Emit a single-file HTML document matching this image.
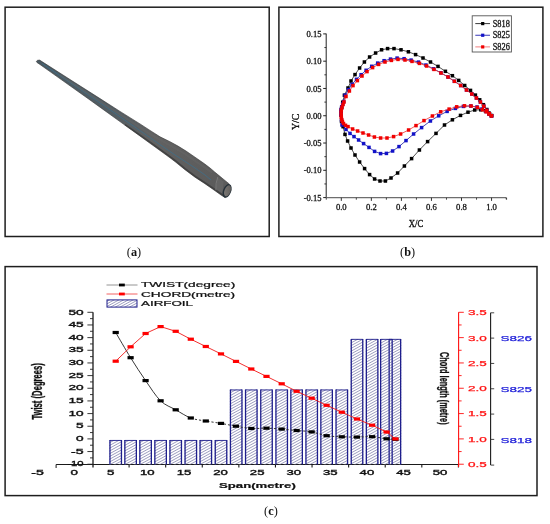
<!DOCTYPE html><html><head><meta charset="utf-8"><title>Figure</title><style>html,body{margin:0;padding:0;background:#fff;width:550px;height:524px;overflow:hidden;}svg{display:block;position:absolute;left:0;top:0;}</style></head><body>
<svg width="550" height="524" viewBox="0 0 550 524">
<defs><linearGradient id="bladeG" gradientUnits="userSpaceOnUse" x1="40" y1="60" x2="225" y2="185"><stop offset="0" stop-color="#4a5a63"/><stop offset="0.4" stop-color="#535d63"/><stop offset="0.62" stop-color="#616161"/><stop offset="1" stop-color="#5b5b5b"/></linearGradient><linearGradient id="capG" gradientUnits="objectBoundingBox" x1="0" y1="0" x2="1" y2="1"><stop offset="0" stop-color="#5e5c5a"/><stop offset="1" stop-color="#7e7a76"/></linearGradient><pattern id="hatch" patternUnits="userSpaceOnUse" width="10" height="2.3" patternTransform="rotate(-29)"><line x1="0" y1="0.5" x2="10" y2="0.5" stroke="#7e7ea6" stroke-width="0.75"/></pattern></defs>
<rect x="0" y="0" width="550" height="524" fill="#fff"/>
<rect x="5.1" y="7.2" width="264.1" height="229.3" fill="none" stroke="#1e1e1e" stroke-width="1.5"/>
<rect x="278.9" y="7.2" width="264.0" height="229.3" fill="none" stroke="#1e1e1e" stroke-width="1.5"/>
<rect x="5.1" y="266.6" width="531.9" height="229.0" fill="none" stroke="#1e1e1e" stroke-width="1.5"/>
<text x="134.0" y="256.3" font-family="'Liberation Serif', 'Times New Roman', serif" font-size="12.3" text-anchor="middle" fill="#111">(<tspan font-weight="bold">a</tspan>)</text>
<text x="407.6" y="256.3" font-family="'Liberation Serif', 'Times New Roman', serif" font-size="12.3" text-anchor="middle" fill="#111">(<tspan font-weight="bold">b</tspan>)</text>
<text x="270.9" y="515.0" font-family="'Liberation Serif', 'Times New Roman', serif" font-size="12.3" text-anchor="middle" fill="#111">(<tspan font-weight="bold">c</tspan>)</text>
<path d="M36.3,61.4 L37.6,60.3 L39.6,60.1 L70,79.5 L100,98.6 L120,111.4 L140,123.9 L150,130.4 L160,136.8 L170,141.7 L178,146.1 L186,151.0 L195,157.2 L204.5,163.8 L210,168.0 L214.6,171.9 L219,175.6 L224,179.7 L229.2,183.9 L225.2,197.6 L221.7,195.5 L214,190.0 L210,187.2 L204.5,183.4 L195,177.2 L185,169.7 L175,161.6 L170,157.8 L160,150.5 L150,143.3 L140,136.0 L120,121.6 L100,107.2 L90,100.0 L70,85.8 L50,71.6 L40,64.5 L37,62.5 Z" fill="url(#bladeG)" stroke="#333" stroke-width="0.6" stroke-linejoin="round"/>
<path d="M125,124.6 L140,135.2 L150,142.2 L160,149.4 L170,156.7 L175,160.5 L185,168.6 L195,176.1 L204.5,182.3 L210,186.1 L214,188.9 L221.7,194.4 L224.5,196.2" fill="none" stroke="#303030" stroke-width="1.6" opacity="0.6"/>
<path d="M42,63.5 L100,102.8 L150,137.6 L160,144.6 L175,155.0 L185,161.4 L195,168.0 L205,175.0 L211,180.0" fill="none" stroke="#3f6e88" stroke-width="0.9" opacity="0.9"/>
<path d="M60,75 L150,134 L185,154 L212,172.5" fill="none" stroke="#6a6a6a" stroke-width="2" opacity="0.4"/>
<path d="M217.6,177.5 L223.6,181.6 L222.4,193.6 L216.2,189.2 Z" fill="#6c6c6c" opacity="0.55"/>
<path d="M217.8,177.0 Q215.4,183 215.9,190.2" fill="none" stroke="#7c7c7c" stroke-width="0.9"/>
<ellipse cx="227.1" cy="190.9" rx="7.1" ry="4.1" transform="rotate(111 227.1 190.9)" fill="#263139"/>
<ellipse cx="227.5" cy="190.8" rx="5.8" ry="3.0" transform="rotate(111 227.5 190.8)" fill="url(#capG)"/>
<line x1="326.2" y1="33.6" x2="326.2" y2="197.7" stroke="#222" stroke-width="1"/>
<line x1="326.2" y1="197.7" x2="506.2" y2="197.7" stroke="#6e6e6e" stroke-width="1.2"/>
<line x1="323.2" y1="33.90" x2="326.2" y2="33.90" stroke="#222" stroke-width="1"/>
<line x1="324.4" y1="47.54" x2="326.2" y2="47.54" stroke="#222" stroke-width="0.9"/>
<text x="321.5" y="37.00" font-family="'Liberation Serif', 'Times New Roman', serif" font-size="9.2" text-anchor="end" fill="#111" font-weight="normal" textLength="15.0" lengthAdjust="spacingAndGlyphs" stroke="#111" stroke-width="0.3">0.15</text>
<line x1="323.2" y1="61.18" x2="326.2" y2="61.18" stroke="#222" stroke-width="1"/>
<line x1="324.4" y1="74.82" x2="326.2" y2="74.82" stroke="#222" stroke-width="0.9"/>
<text x="321.5" y="64.28" font-family="'Liberation Serif', 'Times New Roman', serif" font-size="9.2" text-anchor="end" fill="#111" font-weight="normal" textLength="15.0" lengthAdjust="spacingAndGlyphs" stroke="#111" stroke-width="0.3">0.10</text>
<line x1="323.2" y1="88.46" x2="326.2" y2="88.46" stroke="#222" stroke-width="1"/>
<line x1="324.4" y1="102.10" x2="326.2" y2="102.10" stroke="#222" stroke-width="0.9"/>
<text x="321.5" y="91.56" font-family="'Liberation Serif', 'Times New Roman', serif" font-size="9.2" text-anchor="end" fill="#111" font-weight="normal" textLength="15.0" lengthAdjust="spacingAndGlyphs" stroke="#111" stroke-width="0.3">0.05</text>
<line x1="323.2" y1="115.74" x2="326.2" y2="115.74" stroke="#222" stroke-width="1"/>
<line x1="324.4" y1="129.38" x2="326.2" y2="129.38" stroke="#222" stroke-width="0.9"/>
<text x="321.5" y="118.84" font-family="'Liberation Serif', 'Times New Roman', serif" font-size="9.2" text-anchor="end" fill="#111" font-weight="normal" textLength="15.0" lengthAdjust="spacingAndGlyphs" stroke="#111" stroke-width="0.3">0.00</text>
<line x1="323.2" y1="143.02" x2="326.2" y2="143.02" stroke="#222" stroke-width="1"/>
<line x1="324.4" y1="156.66" x2="326.2" y2="156.66" stroke="#222" stroke-width="0.9"/>
<text x="321.5" y="146.12" font-family="'Liberation Serif', 'Times New Roman', serif" font-size="9.2" text-anchor="end" fill="#111" font-weight="normal" textLength="17.8" lengthAdjust="spacingAndGlyphs" stroke="#111" stroke-width="0.3">-0.05</text>
<line x1="323.2" y1="170.30" x2="326.2" y2="170.30" stroke="#222" stroke-width="1"/>
<line x1="324.4" y1="183.94" x2="326.2" y2="183.94" stroke="#222" stroke-width="0.9"/>
<text x="321.5" y="173.40" font-family="'Liberation Serif', 'Times New Roman', serif" font-size="9.2" text-anchor="end" fill="#111" font-weight="normal" textLength="17.8" lengthAdjust="spacingAndGlyphs" stroke="#111" stroke-width="0.3">-0.10</text>
<line x1="323.2" y1="197.58" x2="326.2" y2="197.58" stroke="#222" stroke-width="1"/>
<text x="321.5" y="200.68" font-family="'Liberation Serif', 'Times New Roman', serif" font-size="9.2" text-anchor="end" fill="#111" font-weight="normal" textLength="17.8" lengthAdjust="spacingAndGlyphs" stroke="#111" stroke-width="0.3">-0.15</text>
<line x1="341.30" y1="197.7" x2="341.30" y2="200.89999999999998" stroke="#333" stroke-width="1"/>
<text x="341.30" y="210.2" font-family="'Liberation Serif', 'Times New Roman', serif" font-size="9.2" text-anchor="middle" fill="#111" font-weight="normal" textLength="10.8" lengthAdjust="spacingAndGlyphs" stroke="#111" stroke-width="0.3">0.0</text>
<line x1="371.35" y1="197.7" x2="371.35" y2="200.89999999999998" stroke="#333" stroke-width="1"/>
<text x="371.35" y="210.2" font-family="'Liberation Serif', 'Times New Roman', serif" font-size="9.2" text-anchor="middle" fill="#111" font-weight="normal" textLength="10.8" lengthAdjust="spacingAndGlyphs" stroke="#111" stroke-width="0.3">0.2</text>
<line x1="401.40" y1="197.7" x2="401.40" y2="200.89999999999998" stroke="#333" stroke-width="1"/>
<text x="401.40" y="210.2" font-family="'Liberation Serif', 'Times New Roman', serif" font-size="9.2" text-anchor="middle" fill="#111" font-weight="normal" textLength="10.8" lengthAdjust="spacingAndGlyphs" stroke="#111" stroke-width="0.3">0.4</text>
<line x1="431.45" y1="197.7" x2="431.45" y2="200.89999999999998" stroke="#333" stroke-width="1"/>
<text x="431.45" y="210.2" font-family="'Liberation Serif', 'Times New Roman', serif" font-size="9.2" text-anchor="middle" fill="#111" font-weight="normal" textLength="10.8" lengthAdjust="spacingAndGlyphs" stroke="#111" stroke-width="0.3">0.6</text>
<line x1="461.50" y1="197.7" x2="461.50" y2="200.89999999999998" stroke="#333" stroke-width="1"/>
<text x="461.50" y="210.2" font-family="'Liberation Serif', 'Times New Roman', serif" font-size="9.2" text-anchor="middle" fill="#111" font-weight="normal" textLength="10.8" lengthAdjust="spacingAndGlyphs" stroke="#111" stroke-width="0.3">0.8</text>
<line x1="491.55" y1="197.7" x2="491.55" y2="200.89999999999998" stroke="#333" stroke-width="1"/>
<text x="491.55" y="210.2" font-family="'Liberation Serif', 'Times New Roman', serif" font-size="9.2" text-anchor="middle" fill="#111" font-weight="normal" textLength="10.8" lengthAdjust="spacingAndGlyphs" stroke="#111" stroke-width="0.3">1.0</text>
<line x1="326.28" y1="197.7" x2="326.28" y2="199.7" stroke="#333" stroke-width="0.9"/>
<line x1="356.32" y1="197.7" x2="356.32" y2="199.7" stroke="#333" stroke-width="0.9"/>
<line x1="386.38" y1="197.7" x2="386.38" y2="199.7" stroke="#333" stroke-width="0.9"/>
<line x1="416.43" y1="197.7" x2="416.43" y2="199.7" stroke="#333" stroke-width="0.9"/>
<line x1="446.48" y1="197.7" x2="446.48" y2="199.7" stroke="#333" stroke-width="0.9"/>
<line x1="476.52" y1="197.7" x2="476.52" y2="199.7" stroke="#333" stroke-width="0.9"/>
<line x1="506.58" y1="197.7" x2="506.58" y2="199.7" stroke="#333" stroke-width="0.9"/>
<line x1="506.2" y1="197.7" x2="506.2" y2="199.29999999999998" stroke="#333" stroke-width="0.9"/>
<text x="416.0" y="226.6" font-family="'Liberation Serif', 'Times New Roman', serif" font-size="9.8" text-anchor="middle" fill="#111" font-weight="normal" textLength="14.6" lengthAdjust="spacingAndGlyphs" stroke="#111" stroke-width="0.3">X/C</text>
<text transform="translate(299.2 121.8) rotate(-90)" x="0" y="0" font-family="'Liberation Serif', 'Times New Roman', serif" font-size="9.8" text-anchor="middle" fill="#111" stroke="#111" stroke-width="0.3" textLength="16.4" lengthAdjust="spacingAndGlyphs">Y/C</text>
<polyline points="491.5,115.6 489.4,113.8 486.8,109.5 483.4,104.7 479.7,99.8 475.4,95.1 470.5,90.4 464.7,85.5 458.7,80.4 452.4,75.7 445.4,71.3 438,66.4 430.5,62 423,58 415.6,54.6 408.4,51.8 401,49.8 394,48.6 387.6,48.6 381.6,49.8 375.6,53 369.6,57 364.4,62 359.6,68 355,74.6 351,81 348,88 344.4,95.2 342.7,102.2 341.6,108.1 341.2,111.2 341.2,115.4 341.5,121.5 343.1,126.7 345,134.4 347.6,141 351,148 355,155 359.6,162 364.6,168.6 369.6,174.6 374.6,179 380,181 385.4,181 391,178 397.6,173 404.4,166 411.6,158.6 419.4,150 427.6,141.6 436,133.4 444.5,125 452.4,119.8 460.5,115.4 468,112.2 474.7,110 480.8,109.8 485.4,110.8 489,113 491.5,115.6" fill="none" stroke="#222" stroke-width="0.8"/><rect x="489.75" y="113.85" width="3.5" height="3.5" fill="#000"/><rect x="487.65" y="112.05" width="3.5" height="3.5" fill="#000"/><rect x="485.05" y="107.75" width="3.5" height="3.5" fill="#000"/><rect x="481.65" y="102.95" width="3.5" height="3.5" fill="#000"/><rect x="477.95" y="98.05" width="3.5" height="3.5" fill="#000"/><rect x="473.65" y="93.35" width="3.5" height="3.5" fill="#000"/><rect x="468.75" y="88.65" width="3.5" height="3.5" fill="#000"/><rect x="462.95" y="83.75" width="3.5" height="3.5" fill="#000"/><rect x="456.95" y="78.65" width="3.5" height="3.5" fill="#000"/><rect x="450.65" y="73.95" width="3.5" height="3.5" fill="#000"/><rect x="443.65" y="69.55" width="3.5" height="3.5" fill="#000"/><rect x="436.25" y="64.65" width="3.5" height="3.5" fill="#000"/><rect x="428.75" y="60.25" width="3.5" height="3.5" fill="#000"/><rect x="421.25" y="56.25" width="3.5" height="3.5" fill="#000"/><rect x="413.85" y="52.85" width="3.5" height="3.5" fill="#000"/><rect x="406.65" y="50.05" width="3.5" height="3.5" fill="#000"/><rect x="399.25" y="48.05" width="3.5" height="3.5" fill="#000"/><rect x="392.25" y="46.85" width="3.5" height="3.5" fill="#000"/><rect x="385.85" y="46.85" width="3.5" height="3.5" fill="#000"/><rect x="379.85" y="48.05" width="3.5" height="3.5" fill="#000"/><rect x="373.85" y="51.25" width="3.5" height="3.5" fill="#000"/><rect x="367.85" y="55.25" width="3.5" height="3.5" fill="#000"/><rect x="362.65" y="60.25" width="3.5" height="3.5" fill="#000"/><rect x="357.85" y="66.25" width="3.5" height="3.5" fill="#000"/><rect x="353.25" y="72.85" width="3.5" height="3.5" fill="#000"/><rect x="349.25" y="79.25" width="3.5" height="3.5" fill="#000"/><rect x="346.25" y="86.25" width="3.5" height="3.5" fill="#000"/><rect x="342.65" y="93.45" width="3.5" height="3.5" fill="#000"/><rect x="340.95" y="100.45" width="3.5" height="3.5" fill="#000"/><rect x="339.85" y="106.35" width="3.5" height="3.5" fill="#000"/><rect x="339.45" y="109.45" width="3.5" height="3.5" fill="#000"/><rect x="339.45" y="113.65" width="3.5" height="3.5" fill="#000"/><rect x="339.75" y="119.75" width="3.5" height="3.5" fill="#000"/><rect x="341.35" y="124.95" width="3.5" height="3.5" fill="#000"/><rect x="343.25" y="132.65" width="3.5" height="3.5" fill="#000"/><rect x="345.85" y="139.25" width="3.5" height="3.5" fill="#000"/><rect x="349.25" y="146.25" width="3.5" height="3.5" fill="#000"/><rect x="353.25" y="153.25" width="3.5" height="3.5" fill="#000"/><rect x="357.85" y="160.25" width="3.5" height="3.5" fill="#000"/><rect x="362.85" y="166.85" width="3.5" height="3.5" fill="#000"/><rect x="367.85" y="172.85" width="3.5" height="3.5" fill="#000"/><rect x="372.85" y="177.25" width="3.5" height="3.5" fill="#000"/><rect x="378.25" y="179.25" width="3.5" height="3.5" fill="#000"/><rect x="383.65" y="179.25" width="3.5" height="3.5" fill="#000"/><rect x="389.25" y="176.25" width="3.5" height="3.5" fill="#000"/><rect x="395.85" y="171.25" width="3.5" height="3.5" fill="#000"/><rect x="402.65" y="164.25" width="3.5" height="3.5" fill="#000"/><rect x="409.85" y="156.85" width="3.5" height="3.5" fill="#000"/><rect x="417.65" y="148.25" width="3.5" height="3.5" fill="#000"/><rect x="425.85" y="139.85" width="3.5" height="3.5" fill="#000"/><rect x="434.25" y="131.65" width="3.5" height="3.5" fill="#000"/><rect x="442.75" y="123.25" width="3.5" height="3.5" fill="#000"/><rect x="450.65" y="118.05" width="3.5" height="3.5" fill="#000"/><rect x="458.75" y="113.65" width="3.5" height="3.5" fill="#000"/><rect x="466.25" y="110.45" width="3.5" height="3.5" fill="#000"/><rect x="472.95" y="108.25" width="3.5" height="3.5" fill="#000"/><rect x="479.05" y="108.05" width="3.5" height="3.5" fill="#000"/><rect x="483.65" y="109.05" width="3.5" height="3.5" fill="#000"/><rect x="487.25" y="111.25" width="3.5" height="3.5" fill="#000"/><rect x="489.75" y="113.85" width="3.5" height="3.5" fill="#000"/>
<polyline points="491.5,115.8 489.4,113.8 486.8,110.4 483.8,106.2 480.4,102 476.4,98 471.8,94 466.5,90 460.7,85.5 454.4,81.3 448,77 440.856,72.792 433.604,68.828 425.93760000000003,65.0432 418.5,62.1 411.1,60.1 404.1,58.7 397.1,58.1 390.5,59.1 384.1,60.7 377.70000000000005,63.10000000000001 371.70000000000005,66.3 366.1,70.3 361.1,74.7 356.5,79.3 352.1,84.3 348.5,89.7 345.1,95.2 343.7,101.5 342.7,104.0 341.7,106.7 341.0,109.5 340.8,112.0 340.9,114.9 341.5,120 342,125 346,129.4 350,133.4 354,136.6 358.6,140 363.6,143.6 369,147.4 374.6,151.4 380.6,153.6 386.4,153.4 392.6,151 399,146.6 406,140.6 413.6,134 421.6,127.6 430.4,121 438.7,115.8 447.1,111.4 455.4,108.4 463.4,106.4 470.7,106 477,107 482,109 486,111.5 489,114 491.5,115.8" fill="none" stroke="#1a1aa0" stroke-width="0.8"/><rect x="489.75" y="114.05" width="3.5" height="3.5" fill="#1212c8"/><rect x="487.65" y="112.05" width="3.5" height="3.5" fill="#1212c8"/><rect x="485.05" y="108.65" width="3.5" height="3.5" fill="#1212c8"/><rect x="482.05" y="104.45" width="3.5" height="3.5" fill="#1212c8"/><rect x="478.65" y="100.25" width="3.5" height="3.5" fill="#1212c8"/><rect x="474.65" y="96.25" width="3.5" height="3.5" fill="#1212c8"/><rect x="470.05" y="92.25" width="3.5" height="3.5" fill="#1212c8"/><rect x="464.75" y="88.25" width="3.5" height="3.5" fill="#1212c8"/><rect x="458.95" y="83.75" width="3.5" height="3.5" fill="#1212c8"/><rect x="452.65" y="79.55" width="3.5" height="3.5" fill="#1212c8"/><rect x="446.25" y="75.25" width="3.5" height="3.5" fill="#1212c8"/><rect x="439.11" y="71.04" width="3.5" height="3.5" fill="#1212c8"/><rect x="431.85" y="67.08" width="3.5" height="3.5" fill="#1212c8"/><rect x="424.19" y="63.29" width="3.5" height="3.5" fill="#1212c8"/><rect x="416.75" y="60.35" width="3.5" height="3.5" fill="#1212c8"/><rect x="409.35" y="58.35" width="3.5" height="3.5" fill="#1212c8"/><rect x="402.35" y="56.95" width="3.5" height="3.5" fill="#1212c8"/><rect x="395.35" y="56.35" width="3.5" height="3.5" fill="#1212c8"/><rect x="388.75" y="57.35" width="3.5" height="3.5" fill="#1212c8"/><rect x="382.35" y="58.95" width="3.5" height="3.5" fill="#1212c8"/><rect x="375.95" y="61.35" width="3.5" height="3.5" fill="#1212c8"/><rect x="369.95" y="64.55" width="3.5" height="3.5" fill="#1212c8"/><rect x="364.35" y="68.55" width="3.5" height="3.5" fill="#1212c8"/><rect x="359.35" y="72.95" width="3.5" height="3.5" fill="#1212c8"/><rect x="354.75" y="77.55" width="3.5" height="3.5" fill="#1212c8"/><rect x="350.35" y="82.55" width="3.5" height="3.5" fill="#1212c8"/><rect x="346.75" y="87.95" width="3.5" height="3.5" fill="#1212c8"/><rect x="343.35" y="93.45" width="3.5" height="3.5" fill="#1212c8"/><rect x="341.95" y="99.75" width="3.5" height="3.5" fill="#1212c8"/><rect x="340.95" y="102.25" width="3.5" height="3.5" fill="#1212c8"/><rect x="339.95" y="104.95" width="3.5" height="3.5" fill="#1212c8"/><rect x="339.25" y="107.75" width="3.5" height="3.5" fill="#1212c8"/><rect x="339.05" y="110.25" width="3.5" height="3.5" fill="#1212c8"/><rect x="339.15" y="113.15" width="3.5" height="3.5" fill="#1212c8"/><rect x="339.75" y="118.25" width="3.5" height="3.5" fill="#1212c8"/><rect x="340.25" y="123.25" width="3.5" height="3.5" fill="#1212c8"/><rect x="344.25" y="127.65" width="3.5" height="3.5" fill="#1212c8"/><rect x="348.25" y="131.65" width="3.5" height="3.5" fill="#1212c8"/><rect x="352.25" y="134.85" width="3.5" height="3.5" fill="#1212c8"/><rect x="356.85" y="138.25" width="3.5" height="3.5" fill="#1212c8"/><rect x="361.85" y="141.85" width="3.5" height="3.5" fill="#1212c8"/><rect x="367.25" y="145.65" width="3.5" height="3.5" fill="#1212c8"/><rect x="372.85" y="149.65" width="3.5" height="3.5" fill="#1212c8"/><rect x="378.85" y="151.85" width="3.5" height="3.5" fill="#1212c8"/><rect x="384.65" y="151.65" width="3.5" height="3.5" fill="#1212c8"/><rect x="390.85" y="149.25" width="3.5" height="3.5" fill="#1212c8"/><rect x="397.25" y="144.85" width="3.5" height="3.5" fill="#1212c8"/><rect x="404.25" y="138.85" width="3.5" height="3.5" fill="#1212c8"/><rect x="411.85" y="132.25" width="3.5" height="3.5" fill="#1212c8"/><rect x="419.85" y="125.85" width="3.5" height="3.5" fill="#1212c8"/><rect x="428.65" y="119.25" width="3.5" height="3.5" fill="#1212c8"/><rect x="436.95" y="114.05" width="3.5" height="3.5" fill="#1212c8"/><rect x="445.35" y="109.65" width="3.5" height="3.5" fill="#1212c8"/><rect x="453.65" y="106.65" width="3.5" height="3.5" fill="#1212c8"/><rect x="461.65" y="104.65" width="3.5" height="3.5" fill="#1212c8"/><rect x="468.95" y="104.25" width="3.5" height="3.5" fill="#1212c8"/><rect x="475.25" y="105.25" width="3.5" height="3.5" fill="#1212c8"/><rect x="480.25" y="107.25" width="3.5" height="3.5" fill="#1212c8"/><rect x="484.25" y="109.75" width="3.5" height="3.5" fill="#1212c8"/><rect x="487.25" y="112.25" width="3.5" height="3.5" fill="#1212c8"/><rect x="489.75" y="114.05" width="3.5" height="3.5" fill="#1212c8"/>
<polyline points="491.5,115.8 489.4,113.8 486.8,110.4 483.8,106.2 480.4,102 476.4,98 471.8,94 466.5,90 460.7,85.5 454.4,81.3 448,77 441,73 434,69.4 426.6,66 419.4,63.4 412,61.4 405,60 398,59.4 391.4,60.4 385,62 378.6,64.4 372.6,67.6 367,71.6 362,76 357.4,80.6 353,85.6 349.4,91 346,96.5 344,102 343,104.5 342,107.2 341.3,110 341.1,112.5 341.2,115.4 341.3,117.5 341.7,119.6 342.4,121.5 343.5,123.5 345.5,125.3 348,126.6 352.6,129 357.6,131 363,133 368.6,135 374.4,137 380.6,138 387,138 393.6,136.6 400.6,134 408.6,130 416,125.6 424,120.6 432.4,116 440.7,111.8 449.1,109.1 456.7,106.8 464.5,105.8 471.1,106 477.4,107.4 482.4,109.8 486.1,111.8 489,114 491.5,115.8" fill="none" stroke="#f03030" stroke-width="0.8"/><rect x="489.75" y="114.05" width="3.5" height="3.5" fill="#f00000"/><rect x="487.65" y="112.05" width="3.5" height="3.5" fill="#f00000"/><rect x="485.05" y="108.65" width="3.5" height="3.5" fill="#f00000"/><rect x="482.05" y="104.45" width="3.5" height="3.5" fill="#f00000"/><rect x="478.65" y="100.25" width="3.5" height="3.5" fill="#f00000"/><rect x="474.65" y="96.25" width="3.5" height="3.5" fill="#f00000"/><rect x="470.05" y="92.25" width="3.5" height="3.5" fill="#f00000"/><rect x="464.75" y="88.25" width="3.5" height="3.5" fill="#f00000"/><rect x="458.95" y="83.75" width="3.5" height="3.5" fill="#f00000"/><rect x="452.65" y="79.55" width="3.5" height="3.5" fill="#f00000"/><rect x="446.25" y="75.25" width="3.5" height="3.5" fill="#f00000"/><rect x="439.25" y="71.25" width="3.5" height="3.5" fill="#f00000"/><rect x="432.25" y="67.65" width="3.5" height="3.5" fill="#f00000"/><rect x="424.85" y="64.25" width="3.5" height="3.5" fill="#f00000"/><rect x="417.65" y="61.65" width="3.5" height="3.5" fill="#f00000"/><rect x="410.25" y="59.65" width="3.5" height="3.5" fill="#f00000"/><rect x="403.25" y="58.25" width="3.5" height="3.5" fill="#f00000"/><rect x="396.25" y="57.65" width="3.5" height="3.5" fill="#f00000"/><rect x="389.65" y="58.65" width="3.5" height="3.5" fill="#f00000"/><rect x="383.25" y="60.25" width="3.5" height="3.5" fill="#f00000"/><rect x="376.85" y="62.65" width="3.5" height="3.5" fill="#f00000"/><rect x="370.85" y="65.85" width="3.5" height="3.5" fill="#f00000"/><rect x="365.25" y="69.85" width="3.5" height="3.5" fill="#f00000"/><rect x="360.25" y="74.25" width="3.5" height="3.5" fill="#f00000"/><rect x="355.65" y="78.85" width="3.5" height="3.5" fill="#f00000"/><rect x="351.25" y="83.85" width="3.5" height="3.5" fill="#f00000"/><rect x="347.65" y="89.25" width="3.5" height="3.5" fill="#f00000"/><rect x="344.25" y="94.75" width="3.5" height="3.5" fill="#f00000"/><rect x="342.25" y="100.25" width="3.5" height="3.5" fill="#f00000"/><rect x="341.25" y="102.75" width="3.5" height="3.5" fill="#f00000"/><rect x="340.25" y="105.45" width="3.5" height="3.5" fill="#f00000"/><rect x="339.55" y="108.25" width="3.5" height="3.5" fill="#f00000"/><rect x="339.35" y="110.75" width="3.5" height="3.5" fill="#f00000"/><rect x="339.45" y="113.65" width="3.5" height="3.5" fill="#f00000"/><rect x="339.55" y="115.75" width="3.5" height="3.5" fill="#f00000"/><rect x="339.95" y="117.85" width="3.5" height="3.5" fill="#f00000"/><rect x="340.65" y="119.75" width="3.5" height="3.5" fill="#f00000"/><rect x="341.75" y="121.75" width="3.5" height="3.5" fill="#f00000"/><rect x="343.75" y="123.55" width="3.5" height="3.5" fill="#f00000"/><rect x="346.25" y="124.85" width="3.5" height="3.5" fill="#f00000"/><rect x="350.85" y="127.25" width="3.5" height="3.5" fill="#f00000"/><rect x="355.85" y="129.25" width="3.5" height="3.5" fill="#f00000"/><rect x="361.25" y="131.25" width="3.5" height="3.5" fill="#f00000"/><rect x="366.85" y="133.25" width="3.5" height="3.5" fill="#f00000"/><rect x="372.65" y="135.25" width="3.5" height="3.5" fill="#f00000"/><rect x="378.85" y="136.25" width="3.5" height="3.5" fill="#f00000"/><rect x="385.25" y="136.25" width="3.5" height="3.5" fill="#f00000"/><rect x="391.85" y="134.85" width="3.5" height="3.5" fill="#f00000"/><rect x="398.85" y="132.25" width="3.5" height="3.5" fill="#f00000"/><rect x="406.85" y="128.25" width="3.5" height="3.5" fill="#f00000"/><rect x="414.25" y="123.85" width="3.5" height="3.5" fill="#f00000"/><rect x="422.25" y="118.85" width="3.5" height="3.5" fill="#f00000"/><rect x="430.65" y="114.25" width="3.5" height="3.5" fill="#f00000"/><rect x="438.95" y="110.05" width="3.5" height="3.5" fill="#f00000"/><rect x="447.35" y="107.35" width="3.5" height="3.5" fill="#f00000"/><rect x="454.95" y="105.05" width="3.5" height="3.5" fill="#f00000"/><rect x="462.75" y="104.05" width="3.5" height="3.5" fill="#f00000"/><rect x="469.35" y="104.25" width="3.5" height="3.5" fill="#f00000"/><rect x="475.65" y="105.65" width="3.5" height="3.5" fill="#f00000"/><rect x="480.65" y="108.05" width="3.5" height="3.5" fill="#f00000"/><rect x="484.35" y="110.05" width="3.5" height="3.5" fill="#f00000"/><rect x="487.25" y="112.25" width="3.5" height="3.5" fill="#f00000"/><rect x="489.75" y="114.05" width="3.5" height="3.5" fill="#f00000"/>
<rect x="472.2" y="15.8" width="39.2" height="36.2" fill="#fff" stroke="#555" stroke-width="0.9"/>
<line x1="475.3" y1="23.60" x2="490" y2="23.60" stroke="#222" stroke-width="0.9"/>
<rect x="481.1" y="22.00" width="3.2" height="3.2" fill="#000"/>
<text x="492.7" y="26.60" font-family="'Liberation Serif', 'Times New Roman', serif" font-size="9.4" text-anchor="start" fill="#111" font-weight="normal" textLength="17.2" lengthAdjust="spacingAndGlyphs" stroke="#111" stroke-width="0.3">S818</text>
<line x1="475.3" y1="35.25" x2="490" y2="35.25" stroke="#2020b0" stroke-width="0.9"/>
<rect x="481.1" y="33.65" width="3.2" height="3.2" fill="#1212c8"/>
<text x="492.7" y="38.25" font-family="'Liberation Serif', 'Times New Roman', serif" font-size="9.4" text-anchor="start" fill="#111" font-weight="normal" textLength="17.2" lengthAdjust="spacingAndGlyphs" stroke="#111" stroke-width="0.3">S825</text>
<line x1="475.3" y1="46.90" x2="490" y2="46.90" stroke="#f07070" stroke-width="0.9"/>
<rect x="481.1" y="45.30" width="3.2" height="3.2" fill="#f00000"/>
<text x="492.7" y="49.90" font-family="'Liberation Serif', 'Times New Roman', serif" font-size="9.4" text-anchor="start" fill="#111" font-weight="normal" textLength="17.2" lengthAdjust="spacingAndGlyphs" stroke="#111" stroke-width="0.3">S826</text>
<line x1="56.1" y1="464.5" x2="458.6" y2="464.5" stroke="#1a1a1a" stroke-width="1"/>
<line x1="56.1" y1="464.5" x2="56.1" y2="468.0" stroke="#1a1a1a" stroke-width="1"/>
<line x1="93.0" y1="312.3" x2="93.0" y2="467.5" stroke="#1a1a1a" stroke-width="1.3"/>
<line x1="129.09" y1="464.5" x2="129.09" y2="467.5" stroke="#1a1a1a" stroke-width="1.1"/>
<line x1="165.68" y1="464.5" x2="165.68" y2="467.5" stroke="#1a1a1a" stroke-width="1.1"/>
<line x1="202.27" y1="464.5" x2="202.27" y2="467.5" stroke="#1a1a1a" stroke-width="1.1"/>
<line x1="238.86" y1="464.5" x2="238.86" y2="467.5" stroke="#1a1a1a" stroke-width="1.1"/>
<line x1="275.45" y1="464.5" x2="275.45" y2="467.5" stroke="#1a1a1a" stroke-width="1.1"/>
<line x1="312.04" y1="464.5" x2="312.04" y2="467.5" stroke="#1a1a1a" stroke-width="1.1"/>
<line x1="348.63" y1="464.5" x2="348.63" y2="467.5" stroke="#1a1a1a" stroke-width="1.1"/>
<line x1="385.22" y1="464.5" x2="385.22" y2="467.5" stroke="#1a1a1a" stroke-width="1.1"/>
<line x1="421.81" y1="464.5" x2="421.81" y2="467.5" stroke="#1a1a1a" stroke-width="1.1"/>
<line x1="458.40" y1="464.5" x2="458.40" y2="467.5" stroke="#1a1a1a" stroke-width="1.1"/>
<line x1="87.4" y1="312.30" x2="93" y2="312.30" stroke="#222" stroke-width="0.9"/>
<line x1="90.0" y1="318.63" x2="93" y2="318.63" stroke="#222" stroke-width="0.9"/>
<text x="83.6" y="314.50" font-family="'Liberation Sans', Arial, sans-serif" font-size="7.2" text-anchor="end" fill="#111" font-weight="normal" textLength="15.2" lengthAdjust="spacingAndGlyphs" stroke="#111" stroke-width="0.35">50</text>
<line x1="87.4" y1="324.96" x2="93" y2="324.96" stroke="#222" stroke-width="0.9"/>
<line x1="90.0" y1="331.29" x2="93" y2="331.29" stroke="#222" stroke-width="0.9"/>
<text x="83.6" y="327.16" font-family="'Liberation Sans', Arial, sans-serif" font-size="7.2" text-anchor="end" fill="#111" font-weight="normal" textLength="15.2" lengthAdjust="spacingAndGlyphs" stroke="#111" stroke-width="0.35">45</text>
<line x1="87.4" y1="337.62" x2="93" y2="337.62" stroke="#222" stroke-width="0.9"/>
<line x1="90.0" y1="343.95" x2="93" y2="343.95" stroke="#222" stroke-width="0.9"/>
<text x="83.6" y="339.82" font-family="'Liberation Sans', Arial, sans-serif" font-size="7.2" text-anchor="end" fill="#111" font-weight="normal" textLength="15.2" lengthAdjust="spacingAndGlyphs" stroke="#111" stroke-width="0.35">40</text>
<line x1="87.4" y1="350.28" x2="93" y2="350.28" stroke="#222" stroke-width="0.9"/>
<line x1="90.0" y1="356.61" x2="93" y2="356.61" stroke="#222" stroke-width="0.9"/>
<text x="83.6" y="352.48" font-family="'Liberation Sans', Arial, sans-serif" font-size="7.2" text-anchor="end" fill="#111" font-weight="normal" textLength="15.2" lengthAdjust="spacingAndGlyphs" stroke="#111" stroke-width="0.35">35</text>
<line x1="87.4" y1="362.94" x2="93" y2="362.94" stroke="#222" stroke-width="0.9"/>
<line x1="90.0" y1="369.27" x2="93" y2="369.27" stroke="#222" stroke-width="0.9"/>
<text x="83.6" y="365.14" font-family="'Liberation Sans', Arial, sans-serif" font-size="7.2" text-anchor="end" fill="#111" font-weight="normal" textLength="15.2" lengthAdjust="spacingAndGlyphs" stroke="#111" stroke-width="0.35">30</text>
<line x1="87.4" y1="375.60" x2="93" y2="375.60" stroke="#222" stroke-width="0.9"/>
<line x1="90.0" y1="381.93" x2="93" y2="381.93" stroke="#222" stroke-width="0.9"/>
<text x="83.6" y="377.80" font-family="'Liberation Sans', Arial, sans-serif" font-size="7.2" text-anchor="end" fill="#111" font-weight="normal" textLength="15.2" lengthAdjust="spacingAndGlyphs" stroke="#111" stroke-width="0.35">25</text>
<line x1="87.4" y1="388.26" x2="93" y2="388.26" stroke="#222" stroke-width="0.9"/>
<line x1="90.0" y1="394.59" x2="93" y2="394.59" stroke="#222" stroke-width="0.9"/>
<text x="83.6" y="390.46" font-family="'Liberation Sans', Arial, sans-serif" font-size="7.2" text-anchor="end" fill="#111" font-weight="normal" textLength="15.2" lengthAdjust="spacingAndGlyphs" stroke="#111" stroke-width="0.35">20</text>
<line x1="87.4" y1="400.92" x2="93" y2="400.92" stroke="#222" stroke-width="0.9"/>
<line x1="90.0" y1="407.25" x2="93" y2="407.25" stroke="#222" stroke-width="0.9"/>
<text x="83.6" y="403.12" font-family="'Liberation Sans', Arial, sans-serif" font-size="7.2" text-anchor="end" fill="#111" font-weight="normal" textLength="15.2" lengthAdjust="spacingAndGlyphs" stroke="#111" stroke-width="0.35">15</text>
<line x1="87.4" y1="413.58" x2="93" y2="413.58" stroke="#222" stroke-width="0.9"/>
<line x1="90.0" y1="419.91" x2="93" y2="419.91" stroke="#222" stroke-width="0.9"/>
<text x="83.6" y="415.78" font-family="'Liberation Sans', Arial, sans-serif" font-size="7.2" text-anchor="end" fill="#111" font-weight="normal" textLength="15.2" lengthAdjust="spacingAndGlyphs" stroke="#111" stroke-width="0.35">10</text>
<line x1="87.4" y1="426.24" x2="93" y2="426.24" stroke="#222" stroke-width="0.9"/>
<line x1="90.0" y1="432.57" x2="93" y2="432.57" stroke="#222" stroke-width="0.9"/>
<text x="83.6" y="428.44" font-family="'Liberation Sans', Arial, sans-serif" font-size="7.2" text-anchor="end" fill="#111" font-weight="normal" textLength="7.6" lengthAdjust="spacingAndGlyphs" stroke="#111" stroke-width="0.35">5</text>
<line x1="87.4" y1="438.90" x2="93" y2="438.90" stroke="#222" stroke-width="0.9"/>
<line x1="90.0" y1="445.23" x2="93" y2="445.23" stroke="#222" stroke-width="0.9"/>
<text x="83.6" y="441.10" font-family="'Liberation Sans', Arial, sans-serif" font-size="7.2" text-anchor="end" fill="#111" font-weight="normal" textLength="7.6" lengthAdjust="spacingAndGlyphs" stroke="#111" stroke-width="0.35">0</text>
<line x1="87.4" y1="451.56" x2="93" y2="451.56" stroke="#222" stroke-width="0.9"/>
<line x1="90.0" y1="457.89" x2="93" y2="457.89" stroke="#222" stroke-width="0.9"/>
<text x="83.6" y="453.76" font-family="'Liberation Sans', Arial, sans-serif" font-size="7.2" text-anchor="end" fill="#111" font-weight="normal" textLength="12.6" lengthAdjust="spacingAndGlyphs" stroke="#111" stroke-width="0.35">-5</text>
<line x1="87.4" y1="464.22" x2="93" y2="464.22" stroke="#222" stroke-width="0.9"/>
<text x="83.6" y="466.42" font-family="'Liberation Sans', Arial, sans-serif" font-size="7.2" text-anchor="end" fill="#111" font-weight="normal" textLength="16.2" lengthAdjust="spacingAndGlyphs" stroke="#111" stroke-width="0.35">-10</text>
<text x="37.61" y="474.6" font-family="'Liberation Sans', Arial, sans-serif" font-size="7.2" text-anchor="middle" fill="#111" font-weight="normal" textLength="12.6" lengthAdjust="spacingAndGlyphs" stroke="#111" stroke-width="0.35">-5</text>
<text x="74.20" y="474.6" font-family="'Liberation Sans', Arial, sans-serif" font-size="7.2" text-anchor="middle" fill="#111" font-weight="normal" textLength="7.4" lengthAdjust="spacingAndGlyphs" stroke="#111" stroke-width="0.35">0</text>
<text x="110.79" y="474.6" font-family="'Liberation Sans', Arial, sans-serif" font-size="7.2" text-anchor="middle" fill="#111" font-weight="normal" textLength="7.4" lengthAdjust="spacingAndGlyphs" stroke="#111" stroke-width="0.35">5</text>
<text x="147.38" y="474.6" font-family="'Liberation Sans', Arial, sans-serif" font-size="7.2" text-anchor="middle" fill="#111" font-weight="normal" textLength="14.6" lengthAdjust="spacingAndGlyphs" stroke="#111" stroke-width="0.35">10</text>
<text x="183.97" y="474.6" font-family="'Liberation Sans', Arial, sans-serif" font-size="7.2" text-anchor="middle" fill="#111" font-weight="normal" textLength="14.6" lengthAdjust="spacingAndGlyphs" stroke="#111" stroke-width="0.35">15</text>
<text x="220.56" y="474.6" font-family="'Liberation Sans', Arial, sans-serif" font-size="7.2" text-anchor="middle" fill="#111" font-weight="normal" textLength="14.6" lengthAdjust="spacingAndGlyphs" stroke="#111" stroke-width="0.35">20</text>
<text x="257.15" y="474.6" font-family="'Liberation Sans', Arial, sans-serif" font-size="7.2" text-anchor="middle" fill="#111" font-weight="normal" textLength="14.6" lengthAdjust="spacingAndGlyphs" stroke="#111" stroke-width="0.35">25</text>
<text x="293.74" y="474.6" font-family="'Liberation Sans', Arial, sans-serif" font-size="7.2" text-anchor="middle" fill="#111" font-weight="normal" textLength="14.6" lengthAdjust="spacingAndGlyphs" stroke="#111" stroke-width="0.35">30</text>
<text x="330.33" y="474.6" font-family="'Liberation Sans', Arial, sans-serif" font-size="7.2" text-anchor="middle" fill="#111" font-weight="normal" textLength="14.6" lengthAdjust="spacingAndGlyphs" stroke="#111" stroke-width="0.35">35</text>
<text x="366.92" y="474.6" font-family="'Liberation Sans', Arial, sans-serif" font-size="7.2" text-anchor="middle" fill="#111" font-weight="normal" textLength="14.6" lengthAdjust="spacingAndGlyphs" stroke="#111" stroke-width="0.35">40</text>
<text x="403.51" y="474.6" font-family="'Liberation Sans', Arial, sans-serif" font-size="7.2" text-anchor="middle" fill="#111" font-weight="normal" textLength="14.6" lengthAdjust="spacingAndGlyphs" stroke="#111" stroke-width="0.35">45</text>
<text x="440.10" y="474.6" font-family="'Liberation Sans', Arial, sans-serif" font-size="7.2" text-anchor="middle" fill="#111" font-weight="normal" textLength="14.6" lengthAdjust="spacingAndGlyphs" stroke="#111" stroke-width="0.35">50</text>
<text x="257.4" y="488.2" font-family="'Liberation Sans', Arial, sans-serif" font-size="7.8" text-anchor="middle" fill="#111" font-weight="bold" textLength="76.8" lengthAdjust="spacingAndGlyphs" stroke="#111" stroke-width="0.2">Span(metre)</text>
<text transform="translate(42.1 391.35) scale(1.84 1) rotate(-90)" x="0" y="0" font-family="'Liberation Sans', Arial, sans-serif" font-size="7.6" font-weight="bold" text-anchor="middle" fill="#111" stroke="#111" stroke-width="0.2" textLength="56.5" lengthAdjust="spacingAndGlyphs">Twist (Degrees)</text>
<text transform="translate(439.7 388.25) scale(1.8 1) rotate(90)" x="0" y="0" font-family="'Liberation Sans', Arial, sans-serif" font-size="7.12" font-weight="bold" text-anchor="middle" fill="#111" stroke="#111" stroke-width="0.2" textLength="72.7" lengthAdjust="spacingAndGlyphs">Chord length (metre)</text>
<line x1="458.6" y1="312.3" x2="458.6" y2="467.0" stroke="#ff1010" stroke-width="1.1"/>
<line x1="458.6" y1="312.30" x2="463.8" y2="312.30" stroke="#ff1010" stroke-width="0.9"/>
<line x1="458.6" y1="324.96" x2="461.6" y2="324.96" stroke="#ff1010" stroke-width="0.9"/>
<text x="468.0" y="315.20" font-family="'Liberation Sans', Arial, sans-serif" font-size="8.0" text-anchor="start" fill="#ff1010" font-weight="normal" textLength="18.8" lengthAdjust="spacingAndGlyphs" stroke="#ff1010" stroke-width="0.25">3.5</text>
<line x1="458.6" y1="337.62" x2="463.8" y2="337.62" stroke="#ff1010" stroke-width="0.9"/>
<line x1="458.6" y1="350.28" x2="461.6" y2="350.28" stroke="#ff1010" stroke-width="0.9"/>
<text x="468.0" y="340.52" font-family="'Liberation Sans', Arial, sans-serif" font-size="8.0" text-anchor="start" fill="#ff1010" font-weight="normal" textLength="18.8" lengthAdjust="spacingAndGlyphs" stroke="#ff1010" stroke-width="0.25">3.0</text>
<line x1="458.6" y1="362.94" x2="463.8" y2="362.94" stroke="#ff1010" stroke-width="0.9"/>
<line x1="458.6" y1="375.60" x2="461.6" y2="375.60" stroke="#ff1010" stroke-width="0.9"/>
<text x="468.0" y="365.84" font-family="'Liberation Sans', Arial, sans-serif" font-size="8.0" text-anchor="start" fill="#ff1010" font-weight="normal" textLength="18.8" lengthAdjust="spacingAndGlyphs" stroke="#ff1010" stroke-width="0.25">2.5</text>
<line x1="458.6" y1="388.26" x2="463.8" y2="388.26" stroke="#ff1010" stroke-width="0.9"/>
<line x1="458.6" y1="400.92" x2="461.6" y2="400.92" stroke="#ff1010" stroke-width="0.9"/>
<text x="468.0" y="391.16" font-family="'Liberation Sans', Arial, sans-serif" font-size="8.0" text-anchor="start" fill="#ff1010" font-weight="normal" textLength="18.8" lengthAdjust="spacingAndGlyphs" stroke="#ff1010" stroke-width="0.25">2.0</text>
<line x1="458.6" y1="413.58" x2="463.8" y2="413.58" stroke="#ff1010" stroke-width="0.9"/>
<line x1="458.6" y1="426.24" x2="461.6" y2="426.24" stroke="#ff1010" stroke-width="0.9"/>
<text x="468.0" y="416.48" font-family="'Liberation Sans', Arial, sans-serif" font-size="8.0" text-anchor="start" fill="#ff1010" font-weight="normal" textLength="18.8" lengthAdjust="spacingAndGlyphs" stroke="#ff1010" stroke-width="0.25">1.5</text>
<line x1="458.6" y1="438.90" x2="463.8" y2="438.90" stroke="#ff1010" stroke-width="0.9"/>
<line x1="458.6" y1="451.56" x2="461.6" y2="451.56" stroke="#ff1010" stroke-width="0.9"/>
<text x="468.0" y="441.80" font-family="'Liberation Sans', Arial, sans-serif" font-size="8.0" text-anchor="start" fill="#ff1010" font-weight="normal" textLength="18.8" lengthAdjust="spacingAndGlyphs" stroke="#ff1010" stroke-width="0.25">1.0</text>
<line x1="458.6" y1="464.22" x2="463.8" y2="464.22" stroke="#ff1010" stroke-width="0.9"/>
<text x="468.0" y="467.12" font-family="'Liberation Sans', Arial, sans-serif" font-size="8.0" text-anchor="start" fill="#ff1010" font-weight="normal" textLength="18.8" lengthAdjust="spacingAndGlyphs" stroke="#ff1010" stroke-width="0.25">0.5</text>
<line x1="490.6" y1="312.8" x2="490.6" y2="465.1" stroke="#1a1a1a" stroke-width="1.1"/>
<line x1="490.6" y1="312.80" x2="494.20000000000005" y2="312.80" stroke="#333" stroke-width="0.9"/>
<line x1="490.6" y1="338.12" x2="494.20000000000005" y2="338.12" stroke="#333" stroke-width="0.9"/>
<line x1="490.6" y1="363.44" x2="494.20000000000005" y2="363.44" stroke="#333" stroke-width="0.9"/>
<line x1="490.6" y1="388.76" x2="494.20000000000005" y2="388.76" stroke="#333" stroke-width="0.9"/>
<line x1="490.6" y1="414.08" x2="494.20000000000005" y2="414.08" stroke="#333" stroke-width="0.9"/>
<line x1="490.6" y1="439.40" x2="494.20000000000005" y2="439.40" stroke="#333" stroke-width="0.9"/>
<line x1="490.6" y1="465.10" x2="494.20000000000005" y2="465.10" stroke="#333" stroke-width="0.9"/>
<text x="500.5" y="341.10" font-family="'Liberation Sans', Arial, sans-serif" font-size="8.0" text-anchor="start" fill="#1c1cd8" font-weight="normal" textLength="31.4" lengthAdjust="spacingAndGlyphs" stroke="#1c1cd8" stroke-width="0.25">S826</text>
<text x="500.5" y="391.70" font-family="'Liberation Sans', Arial, sans-serif" font-size="8.0" text-anchor="start" fill="#1c1cd8" font-weight="normal" textLength="31.4" lengthAdjust="spacingAndGlyphs" stroke="#1c1cd8" stroke-width="0.25">S825</text>
<text x="500.5" y="442.50" font-family="'Liberation Sans', Arial, sans-serif" font-size="8.0" text-anchor="start" fill="#1c1cd8" font-weight="normal" textLength="31.4" lengthAdjust="spacingAndGlyphs" stroke="#1c1cd8" stroke-width="0.25">S818</text>
<clipPath id="barclip"><rect x="109.30" y="440.0" width="12.8" height="24.50"/><rect x="124.20" y="440.0" width="12.8" height="24.50"/><rect x="139.20" y="440.0" width="12.8" height="24.50"/><rect x="154.20" y="440.0" width="12.8" height="24.50"/><rect x="169.30" y="440.0" width="12.8" height="24.50"/><rect x="184.40" y="440.0" width="12.8" height="24.50"/><rect x="199.40" y="440.0" width="12.8" height="24.50"/><rect x="214.60" y="440.0" width="12.8" height="24.50"/><rect x="229.80" y="389.5" width="12.8" height="75.00"/><rect x="244.90" y="389.5" width="12.8" height="75.00"/><rect x="260.10" y="389.5" width="12.8" height="75.00"/><rect x="275.30" y="389.5" width="12.8" height="75.00"/><rect x="290.20" y="389.5" width="12.8" height="75.00"/><rect x="305.30" y="389.5" width="12.8" height="75.00"/><rect x="320.20" y="389.5" width="12.8" height="75.00"/><rect x="335.40" y="389.5" width="12.8" height="75.00"/><rect x="350.60" y="338.9" width="12.8" height="125.60"/><rect x="365.70" y="338.9" width="12.8" height="125.60"/><rect x="380.00" y="338.9" width="12.8" height="125.60"/><rect x="388.50" y="338.9" width="12.8" height="125.60"/></clipPath>
<path d="M105,338.00L405,173.00M105,340.75L405,175.75M105,343.50L405,178.50M105,346.25L405,181.25M105,349.00L405,184.00M105,351.75L405,186.75M105,354.50L405,189.50M105,357.25L405,192.25M105,360.00L405,195.00M105,362.75L405,197.75M105,365.50L405,200.50M105,368.25L405,203.25M105,371.00L405,206.00M105,373.75L405,208.75M105,376.50L405,211.50M105,379.25L405,214.25M105,382.00L405,217.00M105,384.75L405,219.75M105,387.50L405,222.50M105,390.25L405,225.25M105,393.00L405,228.00M105,395.75L405,230.75M105,398.50L405,233.50M105,401.25L405,236.25M105,404.00L405,239.00M105,406.75L405,241.75M105,409.50L405,244.50M105,412.25L405,247.25M105,415.00L405,250.00M105,417.75L405,252.75M105,420.50L405,255.50M105,423.25L405,258.25M105,426.00L405,261.00M105,428.75L405,263.75M105,431.50L405,266.50M105,434.25L405,269.25M105,437.00L405,272.00M105,439.75L405,274.75M105,442.50L405,277.50M105,445.25L405,280.25M105,448.00L405,283.00M105,450.75L405,285.75M105,453.50L405,288.50M105,456.25L405,291.25M105,459.00L405,294.00M105,461.75L405,296.75M105,464.50L405,299.50M105,467.25L405,302.25M105,470.00L405,305.00M105,472.75L405,307.75M105,475.50L405,310.50M105,478.25L405,313.25M105,481.00L405,316.00M105,483.75L405,318.75M105,486.50L405,321.50M105,489.25L405,324.25M105,492.00L405,327.00M105,494.75L405,329.75M105,497.50L405,332.50M105,500.25L405,335.25M105,503.00L405,338.00M105,505.75L405,340.75M105,508.50L405,343.50M105,511.25L405,346.25M105,514.00L405,349.00M105,516.75L405,351.75M105,519.50L405,354.50M105,522.25L405,357.25M105,525.00L405,360.00M105,527.75L405,362.75M105,530.50L405,365.50M105,533.25L405,368.25M105,536.00L405,371.00M105,538.75L405,373.75M105,541.50L405,376.50M105,544.25L405,379.25M105,547.00L405,382.00M105,549.75L405,384.75M105,552.50L405,387.50M105,555.25L405,390.25M105,558.00L405,393.00M105,560.75L405,395.75M105,563.50L405,398.50M105,566.25L405,401.25M105,569.00L405,404.00M105,571.75L405,406.75M105,574.50L405,409.50M105,577.25L405,412.25M105,580.00L405,415.00M105,582.75L405,417.75M105,585.50L405,420.50M105,588.25L405,423.25M105,591.00L405,426.00M105,593.75L405,428.75M105,596.50L405,431.50M105,599.25L405,434.25M105,602.00L405,437.00M105,604.75L405,439.75M105,607.50L405,442.50M105,610.25L405,445.25M105,613.00L405,448.00M105,615.75L405,450.75M105,618.50L405,453.50M105,621.25L405,456.25M105,624.00L405,459.00M105,626.75L405,461.75M105,629.50L405,464.50" stroke="#8a8ab2" stroke-width="0.85" fill="none" clip-path="url(#barclip)"/>
<line x1="109.90" y1="440.45" x2="121.50" y2="440.45" stroke="#1e1e8c" stroke-width="0.9"/>
<line x1="109.95" y1="440.0" x2="109.95" y2="464.5" stroke="#1e1e8c" stroke-width="1.3"/>
<line x1="121.45" y1="440.0" x2="121.45" y2="464.5" stroke="#1e1e8c" stroke-width="1.3"/>
<line x1="124.80" y1="440.45" x2="136.40" y2="440.45" stroke="#1e1e8c" stroke-width="0.9"/>
<line x1="124.85" y1="440.0" x2="124.85" y2="464.5" stroke="#1e1e8c" stroke-width="1.3"/>
<line x1="136.35" y1="440.0" x2="136.35" y2="464.5" stroke="#1e1e8c" stroke-width="1.3"/>
<line x1="139.80" y1="440.45" x2="151.40" y2="440.45" stroke="#1e1e8c" stroke-width="0.9"/>
<line x1="139.85" y1="440.0" x2="139.85" y2="464.5" stroke="#1e1e8c" stroke-width="1.3"/>
<line x1="151.35" y1="440.0" x2="151.35" y2="464.5" stroke="#1e1e8c" stroke-width="1.3"/>
<line x1="154.80" y1="440.45" x2="166.40" y2="440.45" stroke="#1e1e8c" stroke-width="0.9"/>
<line x1="154.85" y1="440.0" x2="154.85" y2="464.5" stroke="#1e1e8c" stroke-width="1.3"/>
<line x1="166.35" y1="440.0" x2="166.35" y2="464.5" stroke="#1e1e8c" stroke-width="1.3"/>
<line x1="169.90" y1="440.45" x2="181.50" y2="440.45" stroke="#1e1e8c" stroke-width="0.9"/>
<line x1="169.95" y1="440.0" x2="169.95" y2="464.5" stroke="#1e1e8c" stroke-width="1.3"/>
<line x1="181.45" y1="440.0" x2="181.45" y2="464.5" stroke="#1e1e8c" stroke-width="1.3"/>
<line x1="185.00" y1="440.45" x2="196.60" y2="440.45" stroke="#1e1e8c" stroke-width="0.9"/>
<line x1="185.05" y1="440.0" x2="185.05" y2="464.5" stroke="#1e1e8c" stroke-width="1.3"/>
<line x1="196.55" y1="440.0" x2="196.55" y2="464.5" stroke="#1e1e8c" stroke-width="1.3"/>
<line x1="200.00" y1="440.45" x2="211.60" y2="440.45" stroke="#1e1e8c" stroke-width="0.9"/>
<line x1="200.05" y1="440.0" x2="200.05" y2="464.5" stroke="#1e1e8c" stroke-width="1.3"/>
<line x1="211.55" y1="440.0" x2="211.55" y2="464.5" stroke="#1e1e8c" stroke-width="1.3"/>
<line x1="215.20" y1="440.45" x2="226.80" y2="440.45" stroke="#1e1e8c" stroke-width="0.9"/>
<line x1="215.25" y1="440.0" x2="215.25" y2="464.5" stroke="#1e1e8c" stroke-width="1.3"/>
<line x1="226.75" y1="440.0" x2="226.75" y2="464.5" stroke="#1e1e8c" stroke-width="1.3"/>
<line x1="230.40" y1="389.95" x2="242.00" y2="389.95" stroke="#1e1e8c" stroke-width="0.9"/>
<line x1="230.45" y1="389.5" x2="230.45" y2="464.5" stroke="#1e1e8c" stroke-width="1.3"/>
<line x1="241.95" y1="389.5" x2="241.95" y2="464.5" stroke="#1e1e8c" stroke-width="1.3"/>
<line x1="245.50" y1="389.95" x2="257.10" y2="389.95" stroke="#1e1e8c" stroke-width="0.9"/>
<line x1="245.55" y1="389.5" x2="245.55" y2="464.5" stroke="#1e1e8c" stroke-width="1.3"/>
<line x1="257.05" y1="389.5" x2="257.05" y2="464.5" stroke="#1e1e8c" stroke-width="1.3"/>
<line x1="260.70" y1="389.95" x2="272.30" y2="389.95" stroke="#1e1e8c" stroke-width="0.9"/>
<line x1="260.75" y1="389.5" x2="260.75" y2="464.5" stroke="#1e1e8c" stroke-width="1.3"/>
<line x1="272.25" y1="389.5" x2="272.25" y2="464.5" stroke="#1e1e8c" stroke-width="1.3"/>
<line x1="275.90" y1="389.95" x2="287.50" y2="389.95" stroke="#1e1e8c" stroke-width="0.9"/>
<line x1="275.95" y1="389.5" x2="275.95" y2="464.5" stroke="#1e1e8c" stroke-width="1.3"/>
<line x1="287.45" y1="389.5" x2="287.45" y2="464.5" stroke="#1e1e8c" stroke-width="1.3"/>
<line x1="290.80" y1="389.95" x2="302.40" y2="389.95" stroke="#1e1e8c" stroke-width="0.9"/>
<line x1="290.85" y1="389.5" x2="290.85" y2="464.5" stroke="#1e1e8c" stroke-width="1.3"/>
<line x1="302.35" y1="389.5" x2="302.35" y2="464.5" stroke="#1e1e8c" stroke-width="1.3"/>
<line x1="305.90" y1="389.95" x2="317.50" y2="389.95" stroke="#1e1e8c" stroke-width="0.9"/>
<line x1="305.95" y1="389.5" x2="305.95" y2="464.5" stroke="#1e1e8c" stroke-width="1.3"/>
<line x1="317.45" y1="389.5" x2="317.45" y2="464.5" stroke="#1e1e8c" stroke-width="1.3"/>
<line x1="320.80" y1="389.95" x2="332.40" y2="389.95" stroke="#1e1e8c" stroke-width="0.9"/>
<line x1="320.85" y1="389.5" x2="320.85" y2="464.5" stroke="#1e1e8c" stroke-width="1.3"/>
<line x1="332.35" y1="389.5" x2="332.35" y2="464.5" stroke="#1e1e8c" stroke-width="1.3"/>
<line x1="336.00" y1="389.95" x2="347.60" y2="389.95" stroke="#1e1e8c" stroke-width="0.9"/>
<line x1="336.05" y1="389.5" x2="336.05" y2="464.5" stroke="#1e1e8c" stroke-width="1.3"/>
<line x1="347.55" y1="389.5" x2="347.55" y2="464.5" stroke="#1e1e8c" stroke-width="1.3"/>
<line x1="351.20" y1="339.34999999999997" x2="362.80" y2="339.34999999999997" stroke="#1e1e8c" stroke-width="0.9"/>
<line x1="351.25" y1="338.9" x2="351.25" y2="464.5" stroke="#1e1e8c" stroke-width="1.3"/>
<line x1="362.75" y1="338.9" x2="362.75" y2="464.5" stroke="#1e1e8c" stroke-width="1.3"/>
<line x1="366.30" y1="339.34999999999997" x2="377.90" y2="339.34999999999997" stroke="#1e1e8c" stroke-width="0.9"/>
<line x1="366.35" y1="338.9" x2="366.35" y2="464.5" stroke="#1e1e8c" stroke-width="1.3"/>
<line x1="377.85" y1="338.9" x2="377.85" y2="464.5" stroke="#1e1e8c" stroke-width="1.3"/>
<line x1="380.60" y1="339.34999999999997" x2="392.20" y2="339.34999999999997" stroke="#1e1e8c" stroke-width="0.9"/>
<line x1="380.65" y1="338.9" x2="380.65" y2="464.5" stroke="#1e1e8c" stroke-width="1.3"/>
<line x1="392.15" y1="338.9" x2="392.15" y2="464.5" stroke="#1e1e8c" stroke-width="1.3"/>
<line x1="389.10" y1="339.34999999999997" x2="400.70" y2="339.34999999999997" stroke="#1e1e8c" stroke-width="0.9"/>
<line x1="389.15" y1="338.9" x2="389.15" y2="464.5" stroke="#1e1e8c" stroke-width="1.3"/>
<line x1="400.65" y1="338.9" x2="400.65" y2="464.5" stroke="#1e1e8c" stroke-width="1.3"/>
<path d="M115.7,332.5 C118.18,336.70 125.62,349.68 130.6,357.7 C135.58,365.72 140.60,373.42 145.6,380.6 C150.60,387.78 155.58,395.93 160.6,400.8 C165.62,405.67 170.67,406.93 175.7,409.8 C180.73,412.67 185.78,416.13 190.8,418" fill="none" stroke="#222" stroke-width="0.9"/>
<path d="M190.8,418 C195.82,419.87 200.77,420.10 205.8,421 C210.83,421.90 215.97,422.53 221,423.4 C226.03,424.27 230.95,425.35 236,426.2 C241.05,427.05 246.22,428.17 251.3,428.5 C256.38,428.83 261.43,428.10 266.5,428.2 C271.57,428.30 276.68,428.72 281.7,429.1 C286.72,429.48 291.60,430.03 296.6,430.5 C301.60,430.97 306.70,431.03 311.7,431.9 C316.70,432.77 321.58,434.88 326.6,435.7 C331.62,436.52 336.73,436.57 341.8,436.8 C346.87,437.03 351.95,437.12 357,437.1 C362.05,437.08 367.17,436.42 372.1,436.7 C377.03,436.98 382.72,438.37 386.6,438.8 C390.48,439.23 393.93,439.22 395.4,439.3" fill="none" stroke="#222" stroke-width="0.9" stroke-dasharray="2.2 2"/>
<polyline points="115.7,361.2 130.6,346.8 145.6,333.5 160.6,326.6 175.7,331.3 190.8,339.2 205.8,346.5 221,353.9 236,361.4 251.3,369 266.5,376.4 281.7,383.8 296.6,391.3 311.7,398.2 326.6,405.3 341.8,412.2 357,419 372.1,425.2 386.6,432 395.4,438.9" fill="none" stroke="#f01818" stroke-width="0.9"/>
<rect x="112.60" y="330.90" width="6.2" height="3.2" fill="#000"/>
<rect x="127.50" y="356.10" width="6.2" height="3.2" fill="#000"/>
<rect x="142.50" y="379.00" width="6.2" height="3.2" fill="#000"/>
<rect x="157.50" y="399.20" width="6.2" height="3.2" fill="#000"/>
<rect x="172.60" y="408.20" width="6.2" height="3.2" fill="#000"/>
<rect x="187.70" y="416.40" width="6.2" height="3.2" fill="#000"/>
<rect x="202.70" y="419.40" width="6.2" height="3.2" fill="#000"/>
<rect x="217.90" y="421.80" width="6.2" height="3.2" fill="#000"/>
<rect x="232.90" y="424.60" width="6.2" height="3.2" fill="#000"/>
<rect x="248.20" y="426.90" width="6.2" height="3.2" fill="#000"/>
<rect x="263.40" y="426.60" width="6.2" height="3.2" fill="#000"/>
<rect x="278.60" y="427.50" width="6.2" height="3.2" fill="#000"/>
<rect x="293.50" y="428.90" width="6.2" height="3.2" fill="#000"/>
<rect x="308.60" y="430.30" width="6.2" height="3.2" fill="#000"/>
<rect x="323.50" y="434.10" width="6.2" height="3.2" fill="#000"/>
<rect x="338.70" y="435.20" width="6.2" height="3.2" fill="#000"/>
<rect x="353.90" y="435.50" width="6.2" height="3.2" fill="#000"/>
<rect x="369.00" y="435.10" width="6.2" height="3.2" fill="#000"/>
<rect x="383.50" y="437.20" width="6.2" height="3.2" fill="#000"/>
<rect x="392.30" y="437.70" width="6.2" height="3.2" fill="#000"/>
<rect x="112.60" y="359.60" width="6.2" height="3.2" fill="#ff0000"/>
<rect x="127.50" y="345.20" width="6.2" height="3.2" fill="#ff0000"/>
<rect x="142.50" y="331.90" width="6.2" height="3.2" fill="#ff0000"/>
<rect x="157.50" y="325.00" width="6.2" height="3.2" fill="#ff0000"/>
<rect x="172.60" y="329.70" width="6.2" height="3.2" fill="#ff0000"/>
<rect x="187.70" y="337.60" width="6.2" height="3.2" fill="#ff0000"/>
<rect x="202.70" y="344.90" width="6.2" height="3.2" fill="#ff0000"/>
<rect x="217.90" y="352.30" width="6.2" height="3.2" fill="#ff0000"/>
<rect x="232.90" y="359.80" width="6.2" height="3.2" fill="#ff0000"/>
<rect x="248.20" y="367.40" width="6.2" height="3.2" fill="#ff0000"/>
<rect x="263.40" y="374.80" width="6.2" height="3.2" fill="#ff0000"/>
<rect x="278.60" y="382.20" width="6.2" height="3.2" fill="#ff0000"/>
<rect x="293.50" y="389.70" width="6.2" height="3.2" fill="#ff0000"/>
<rect x="308.60" y="396.60" width="6.2" height="3.2" fill="#ff0000"/>
<rect x="323.50" y="403.70" width="6.2" height="3.2" fill="#ff0000"/>
<rect x="338.70" y="410.60" width="6.2" height="3.2" fill="#ff0000"/>
<rect x="353.90" y="417.40" width="6.2" height="3.2" fill="#ff0000"/>
<rect x="369.00" y="423.60" width="6.2" height="3.2" fill="#ff0000"/>
<rect x="383.50" y="430.40" width="6.2" height="3.2" fill="#ff0000"/>
<rect x="392.30" y="437.30" width="6.2" height="3.2" fill="#ff0000"/>
<line x1="106.5" y1="285.0" x2="137.5" y2="285.0" stroke="#888" stroke-width="0.9"/>
<rect x="119.0" y="283.6" width="5.8" height="2.8" fill="#000"/>
<line x1="106.5" y1="294.0" x2="137.5" y2="294.0" stroke="#f05050" stroke-width="0.9"/>
<rect x="119.0" y="292.6" width="5.8" height="2.8" fill="#ff0000"/>
<clipPath id="legclip"><rect x="107.0" y="299.9" width="30.0" height="7.2"/></clipPath>
<path d="M100,299.90L140,277.90M100,302.50L140,280.50M100,305.10L140,283.10M100,307.70L140,285.70M100,310.30L140,288.30M100,312.90L140,290.90M100,315.50L140,293.50M100,318.10L140,296.10M100,320.70L140,298.70M100,323.30L140,301.30M100,325.90L140,303.90M100,328.50L140,306.50" stroke="#8a8ab2" stroke-width="0.85" fill="none" clip-path="url(#legclip)"/>
<rect x="107.0" y="299.9" width="30.0" height="7.2" fill="none" stroke="#1e1e8c" stroke-width="1"/>
<text x="141.0" y="287.1" font-family="'Liberation Sans', Arial, sans-serif" font-size="7.3" text-anchor="start" fill="#111" font-weight="normal" textLength="94.2" lengthAdjust="spacingAndGlyphs" stroke="#111" stroke-width="0.22">TWIST(degree)</text>
<text x="141.0" y="296.5" font-family="'Liberation Sans', Arial, sans-serif" font-size="7.3" text-anchor="start" fill="#111" font-weight="normal" textLength="94.2" lengthAdjust="spacingAndGlyphs" stroke="#111" stroke-width="0.22">CHORD(metre)</text>
<text x="141.0" y="305.9" font-family="'Liberation Sans', Arial, sans-serif" font-size="7.3" text-anchor="start" fill="#111" font-weight="normal" textLength="52.0" lengthAdjust="spacingAndGlyphs" stroke="#111" stroke-width="0.22">AIRFOIL</text>
</svg></body></html>
